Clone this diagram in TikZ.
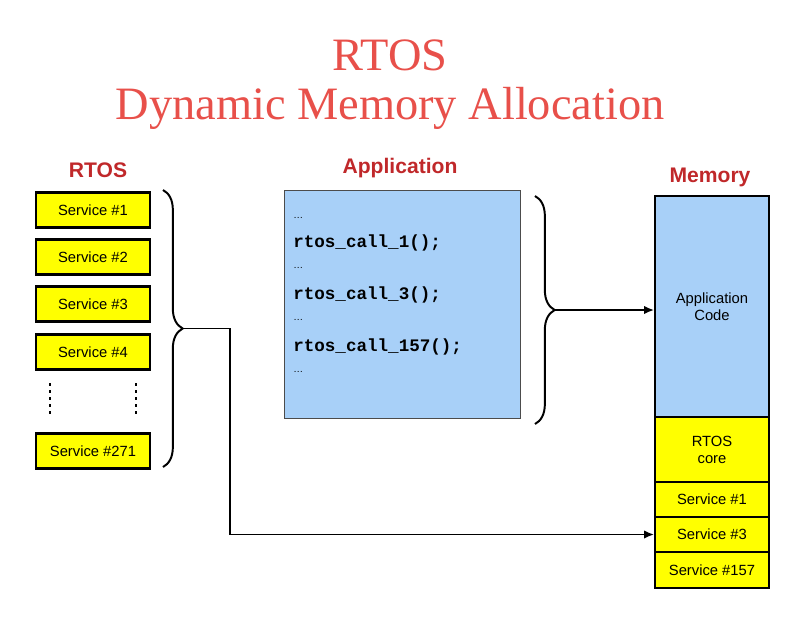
\documentclass[tikz,border=0pt]{standalone}
\usepackage{fontspec}
\setmainfont{Liberation Sans}
\newfontfamily\titlefont{Liberation Serif}
\newfontfamily\codefont{Liberation Mono}
\usetikzlibrary{arrows.meta,positioning,decorations.pathreplacing}
\definecolor{titlered}{HTML}{E8504A}
\definecolor{headred}{HTML}{C0282A}
\definecolor{appblue}{HTML}{A8D0F8}
\definecolor{svcyellow}{HTML}{FFFF00}
\begin{document}
\begin{tikzpicture}[x=0.025cm,y=-0.025cm,
    service/.style={draw, line width=1.6pt, fill=svcyellow, minimum width=2.85cm, minimum height=0.88cm, font=\fontsize{10.5}{12}\selectfont, inner sep=0pt},
    memcell/.style={draw, line width=1.4pt, fill=svcyellow, minimum width=2.85cm, inner sep=0pt, align=center, font=\fontsize{10.5}{12}\selectfont},
    heading/.style={font=\bfseries\fontsize{15}{18}\selectfont, text=headred},
    code/.style={font=\codefont\bfseries\fontsize{12.5}{14}\selectfont, anchor=west, inner sep=0pt},
    dots/.style={font=\fontsize{7}{8}\selectfont, anchor=west, inner sep=0pt},
    bracket/.style={decorate, decoration={brace, amplitude=14pt}, line width=1.4pt},
    link/.style={-{Latex[length=7pt,width=6pt]}, line width=1.2pt}
]
\useasboundingbox (0,0) rectangle (800,634);

% title
\node[font=\titlefont\fontsize{33}{36}\selectfont, text=titlered] (title1) at (390,55) {RTOS};
\node[font=\titlefont\fontsize{33}{36}\selectfont, text=titlered] (title2) at (390,108) {Dynamic Memory Allocation};

% RTOS services
\node[heading] (rtoshead) at (98,170) {RTOS};
\node[service] (s1) at (93,210) {Service \#1};
\node[service] (s2) at (93,257) {Service \#2};
\node[service] (s3) at (93,304) {Service \#3};
\node[service] (s4) at (93,352) {Service \#4};
\node[service] (s271) at (93,451) {Service \#271};
\draw[line width=2pt, dash pattern=on 2pt off 3pt] (50,383) -- (50,416);
\draw[line width=2pt, dash pattern=on 2pt off 3pt] (136,383) -- (136,416);
\draw[bracket] (163,190) -- coordinate[xshift=14pt] (rtostip) (163,467);

% application
\node[heading] (apphead) at (400,168) {Application};
\node[draw=black!70, fill=appblue, minimum width=5.9cm, minimum height=5.7cm, inner sep=0pt] (app) at (402,304) {};
\node[dots] (d1) at (293,218) {\dots};
\node[code] (c1) at (293,243) {rtos\_call\_1();};
\node[dots] (d2) at (293,268) {\dots};
\node[code] (c2) at (293,295) {rtos\_call\_3();};
\node[dots] (d3) at (293,320) {\dots};
\node[code] (c3) at (293,347) {rtos\_call\_157();};
\node[dots] (d4) at (293,372) {\dots};
\draw[bracket] (535,196) -- coordinate[xshift=14pt] (apptip) (535,424);

% memory
\node[heading] (memhead) at (710,177) {Memory};
\node[memcell, fill=appblue, minimum height=5.52cm] (mapp) at (712,306.5) {Application\\Code};
\node[memcell, minimum height=1.62cm] (mcore) at (712,449.5) {RTOS\\core};
\node[memcell, minimum height=0.88cm] (m1) at (712,499.5) {Service \#1};
\node[memcell, minimum height=0.88cm] (m3) at (712,534.5) {Service \#3};
\node[memcell, minimum height=0.9cm] (m157) at (712,570) {Service \#157};

% links
\draw[link] (apptip) -- (mapp.west |- apptip);
\draw[link] (rtostip) -- ++(47,0) |- (m3.west);
\end{tikzpicture}
\end{document}
